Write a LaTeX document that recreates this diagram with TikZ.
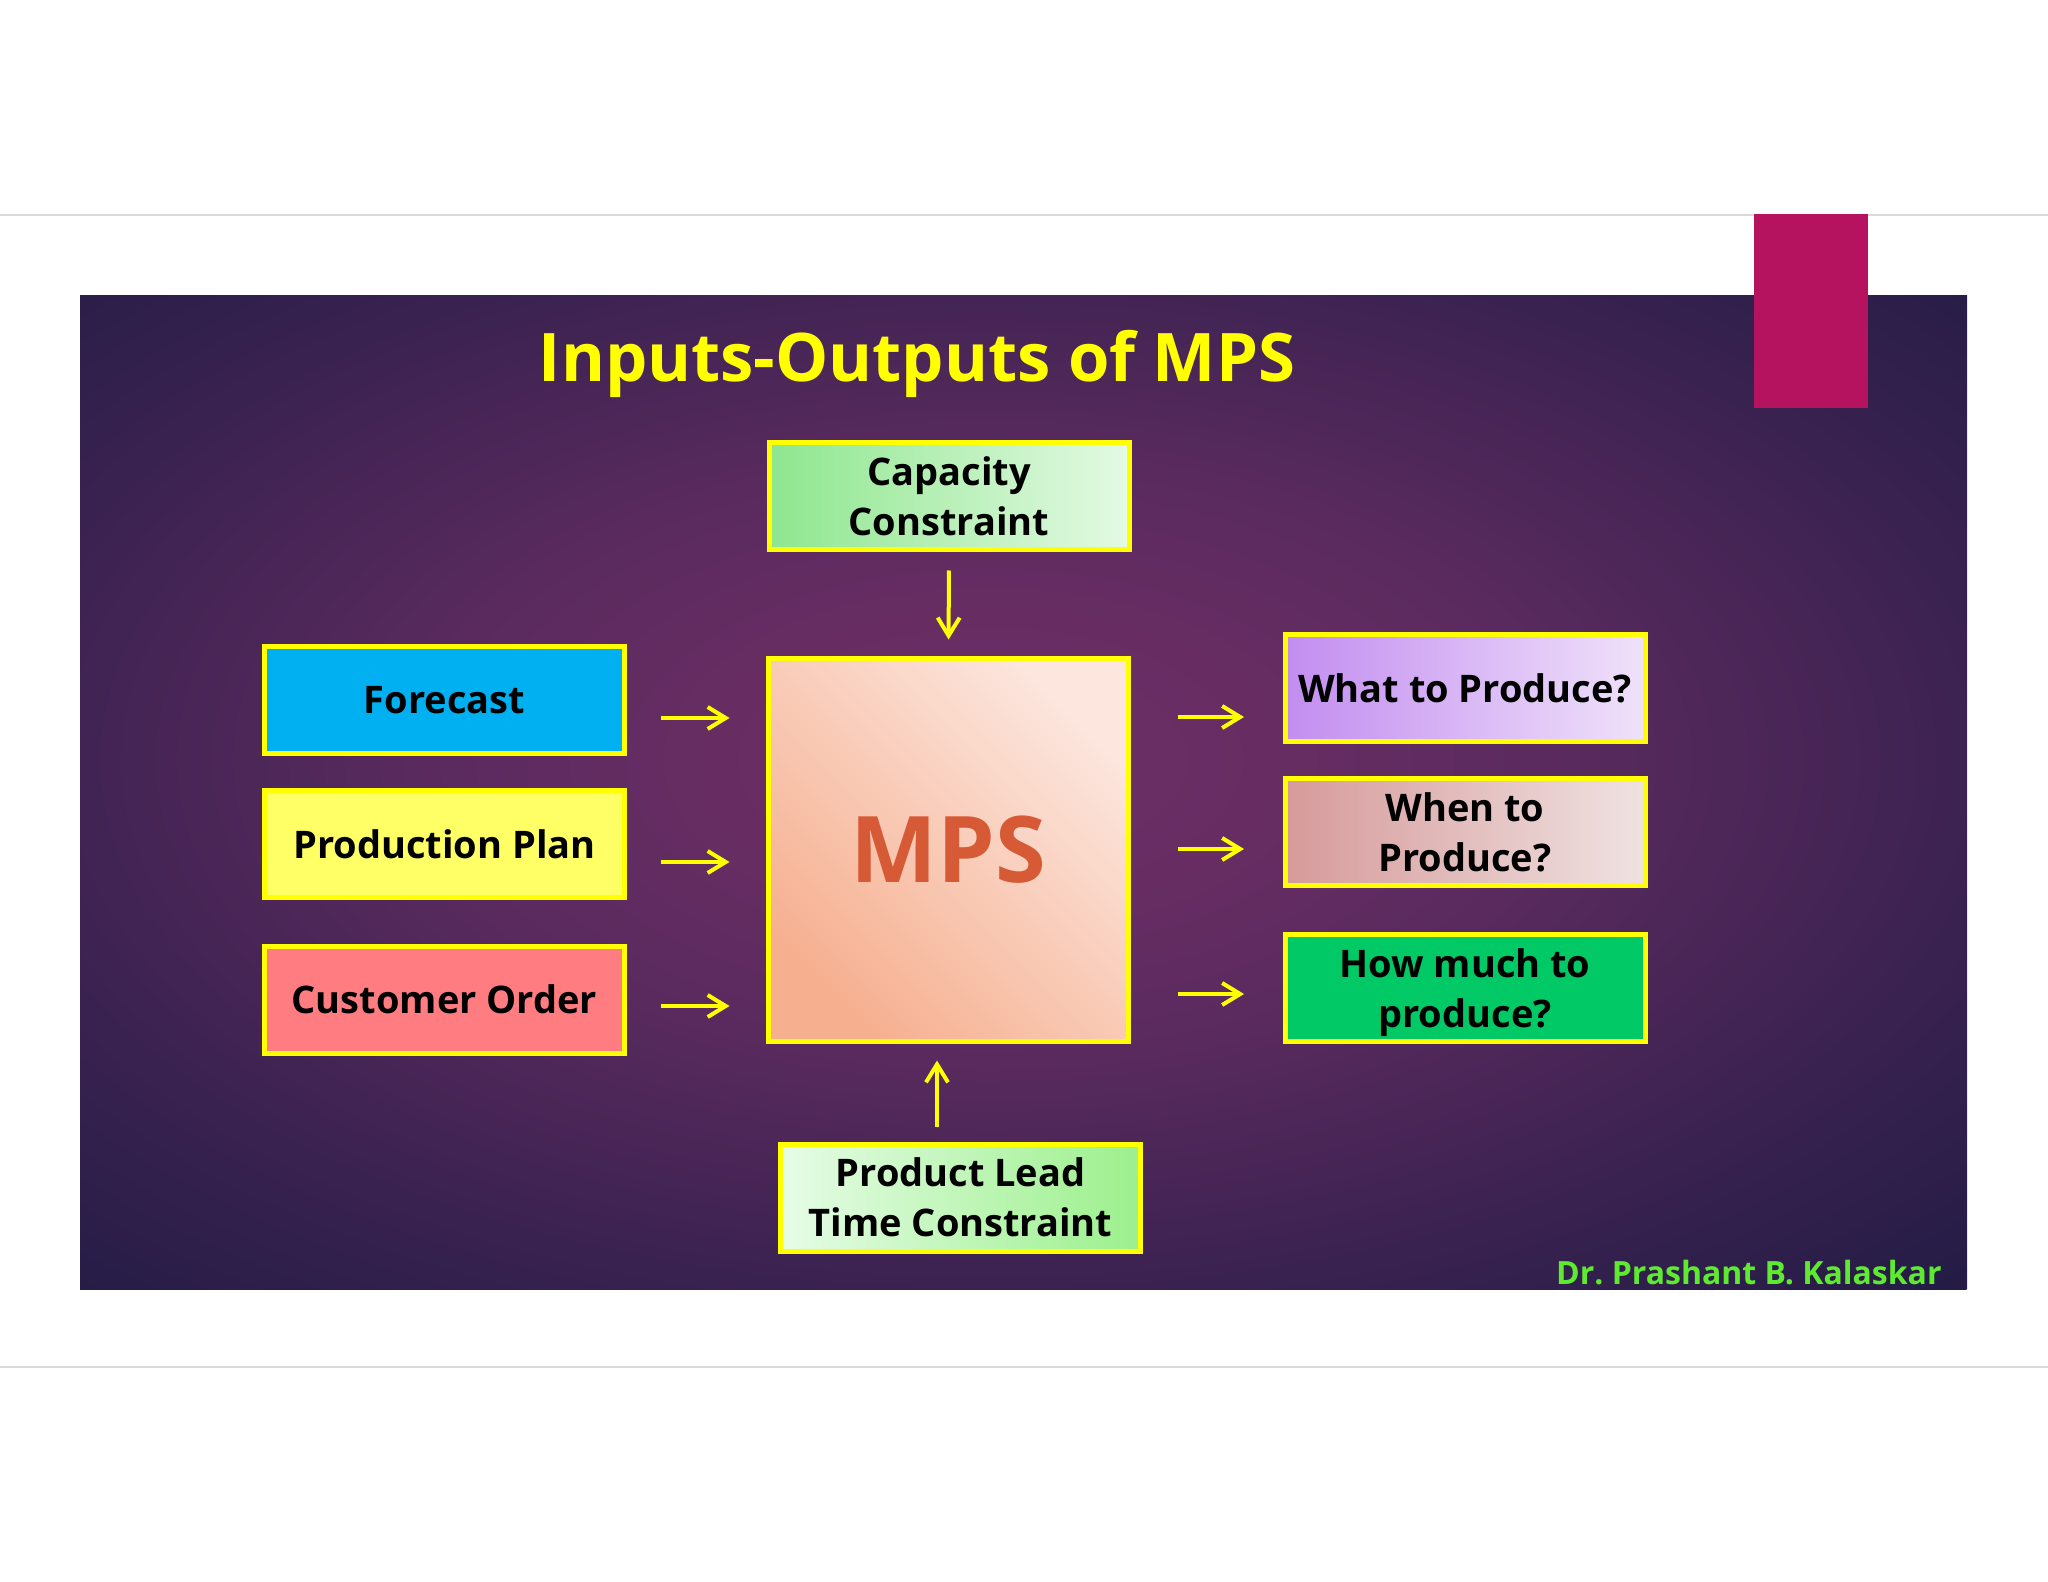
\documentclass[tikz,border=0pt]{standalone}
\usepackage{fontspec}
\setmainfont{Open Sans}
\usetikzlibrary{arrows.meta}
\definecolor{bgA}{HTML}{6C2F66}
\definecolor{bgB}{HTML}{672D63}
\definecolor{bgC}{HTML}{5A2A5E}
\definecolor{bgD}{HTML}{4A2657}
\definecolor{bgE}{HTML}{3A2250}
\definecolor{bgF}{HTML}{231C45}
\definecolor{boxline}{HTML}{FFFF00}
\definecolor{titleyellow}{HTML}{FFFF00}
\definecolor{creditgreen}{HTML}{5EEB2F}
\definecolor{magentaC}{HTML}{B5135F}
\definecolor{grayline}{HTML}{DADADA}
\definecolor{fcBlue}{HTML}{00B0F0}
\definecolor{ppYellow}{HTML}{FFFF66}
\definecolor{coRed}{HTML}{FF7C80}
\definecolor{howGreen}{HTML}{00C965}
\definecolor{whatL}{HTML}{C28DF0}
\definecolor{whatR}{HTML}{F0E2FA}
\definecolor{whenL}{HTML}{D69A9A}
\definecolor{whenR}{HTML}{F0E2E2}
\definecolor{capL}{HTML}{8EE68E}
\definecolor{capR}{HTML}{E4FAE4}
\definecolor{plL}{HTML}{E6FCE6}
\definecolor{plR}{HTML}{9CF08C}
\definecolor{mpsA}{HTML}{F6B090}
\definecolor{mpsB}{HTML}{FCE6DE}
\definecolor{mpsText}{HTML}{D55A35}
\pgfdeclareradialshading{slidebg}{\pgfpoint{0bp}{0bp}}{color(0bp)=(bgA); color(5bp)=(bgB); color(10bp)=(bgC); color(14bp)=(bgD); color(18bp)=(bgE); color(25bp)=(bgF); color(50bp)=(bgF)}
\begin{document}
\begin{tikzpicture}[x=0.5pt,y=-0.5pt,
  box/.style={draw=boxline, line width=2.5pt, minimum width=180pt, minimum height=53.5pt,
    inner sep=0pt, align=center, font=\fontsize{19}{25}\selectfont\bfseries, text=black, text depth=0pt},
  arr/.style={draw=boxline, line width=2pt, -{Straight Barb[length=9pt,width=11pt]}},
  grayrule/.style={draw=grayline, line width=1pt}
]
\useasboundingbox (0,0) rectangle (2048,1582);
\fill[white] (0,0) rectangle (2048,1582);
\draw[grayrule] (0,215) -- (2048,215);
\draw[grayrule] (0,1367) -- (2048,1367);
\begin{scope}
  \clip (80,296) rectangle (1967,1289);
  \shade[shading=slidebg] (990,760) ellipse [x radius=701pt, y radius=369pt];
\end{scope}
\fill[magentaC] (1754,214) rectangle (1868,408);

\node[anchor=base, font=\fontsize{33.5}{40}\selectfont\bfseries, text=titleyellow] (title) at (917,382) {Inputs-Outputs of MPS};

\node[box, left color=capL, right color=capR] (cap) at (949,496) {Capacity\\Constraint};
\node[draw=boxline, line width=2.5pt, minimum width=180pt, minimum height=191.5pt, inner sep=0pt,
  bottom color=mpsA, top color=mpsB, shading angle=-45,
  font=\fontsize{46}{50}\selectfont\bfseries, text=mpsText] (mps) at (948.5,850) {MPS};

\node[box, fill=fcBlue] (fc) at (444.5,700) {Forecast};
\node[box, fill=ppYellow] (pp) at (444.5,844) {Production Plan};
\node[box, fill=coRed] (co) at (444.5,999.5) {Customer Order};

\node[box, left color=whatL, right color=whatR] (what) at (1465,688) {What to Produce?};
\node[box, left color=whenL, right color=whenR] (when) at (1465,832) {When to\\Produce?};
\node[box, fill=howGreen] (how) at (1465,988) {How much to\\produce?};

\node[box, left color=plL, right color=plR] (pl) at (960.5,1197.5) {Product Lead\\Time Constraint};

\node[anchor=base east, inner sep=0pt, font=\fontsize{16}{22}\selectfont\bfseries, text=creditgreen] (credit) at (1942,1284) {Dr.\ Prashant B.\ Kalaskar};

% input arrows
\draw[arr, shorten <=16.75pt, shorten >=18.25pt] ([yshift=-9pt]fc.east) -- ([yshift=-9pt]fc.east -| mps.west);
\draw[arr, shorten <=16.75pt, shorten >=18.25pt] ([yshift=-9pt]pp.east) -- ([yshift=-9pt]pp.east -| mps.west);
\draw[arr, shorten <=16.75pt, shorten >=18.25pt] ([yshift=-3.25pt]co.east) -- ([yshift=-3.25pt]co.east -| mps.west);
% output arrows
\draw[arr, shorten <=23.25pt, shorten >=19.25pt] ([yshift=-14.5pt]what.west -| mps.east) -- ([yshift=-14.5pt]what.west);
\draw[arr, shorten <=23.25pt, shorten >=19.25pt] ([yshift=-8.5pt]when.west -| mps.east) -- ([yshift=-8.5pt]when.west);
\draw[arr, shorten <=23.25pt, shorten >=19.25pt] ([yshift=-3pt]how.west -| mps.east) -- ([yshift=-3pt]how.west);
% vertical arrows
\draw[arr, shorten <=9.25pt, shorten >=8.25pt] (cap.south) -- (mps.north);
\draw[arr, shorten <=7.25pt, shorten >=8.25pt] ([xshift=-11.75pt]pl.north) -- ([xshift=-11.75pt]pl.north |- mps.south);
\end{tikzpicture}
\end{document}
